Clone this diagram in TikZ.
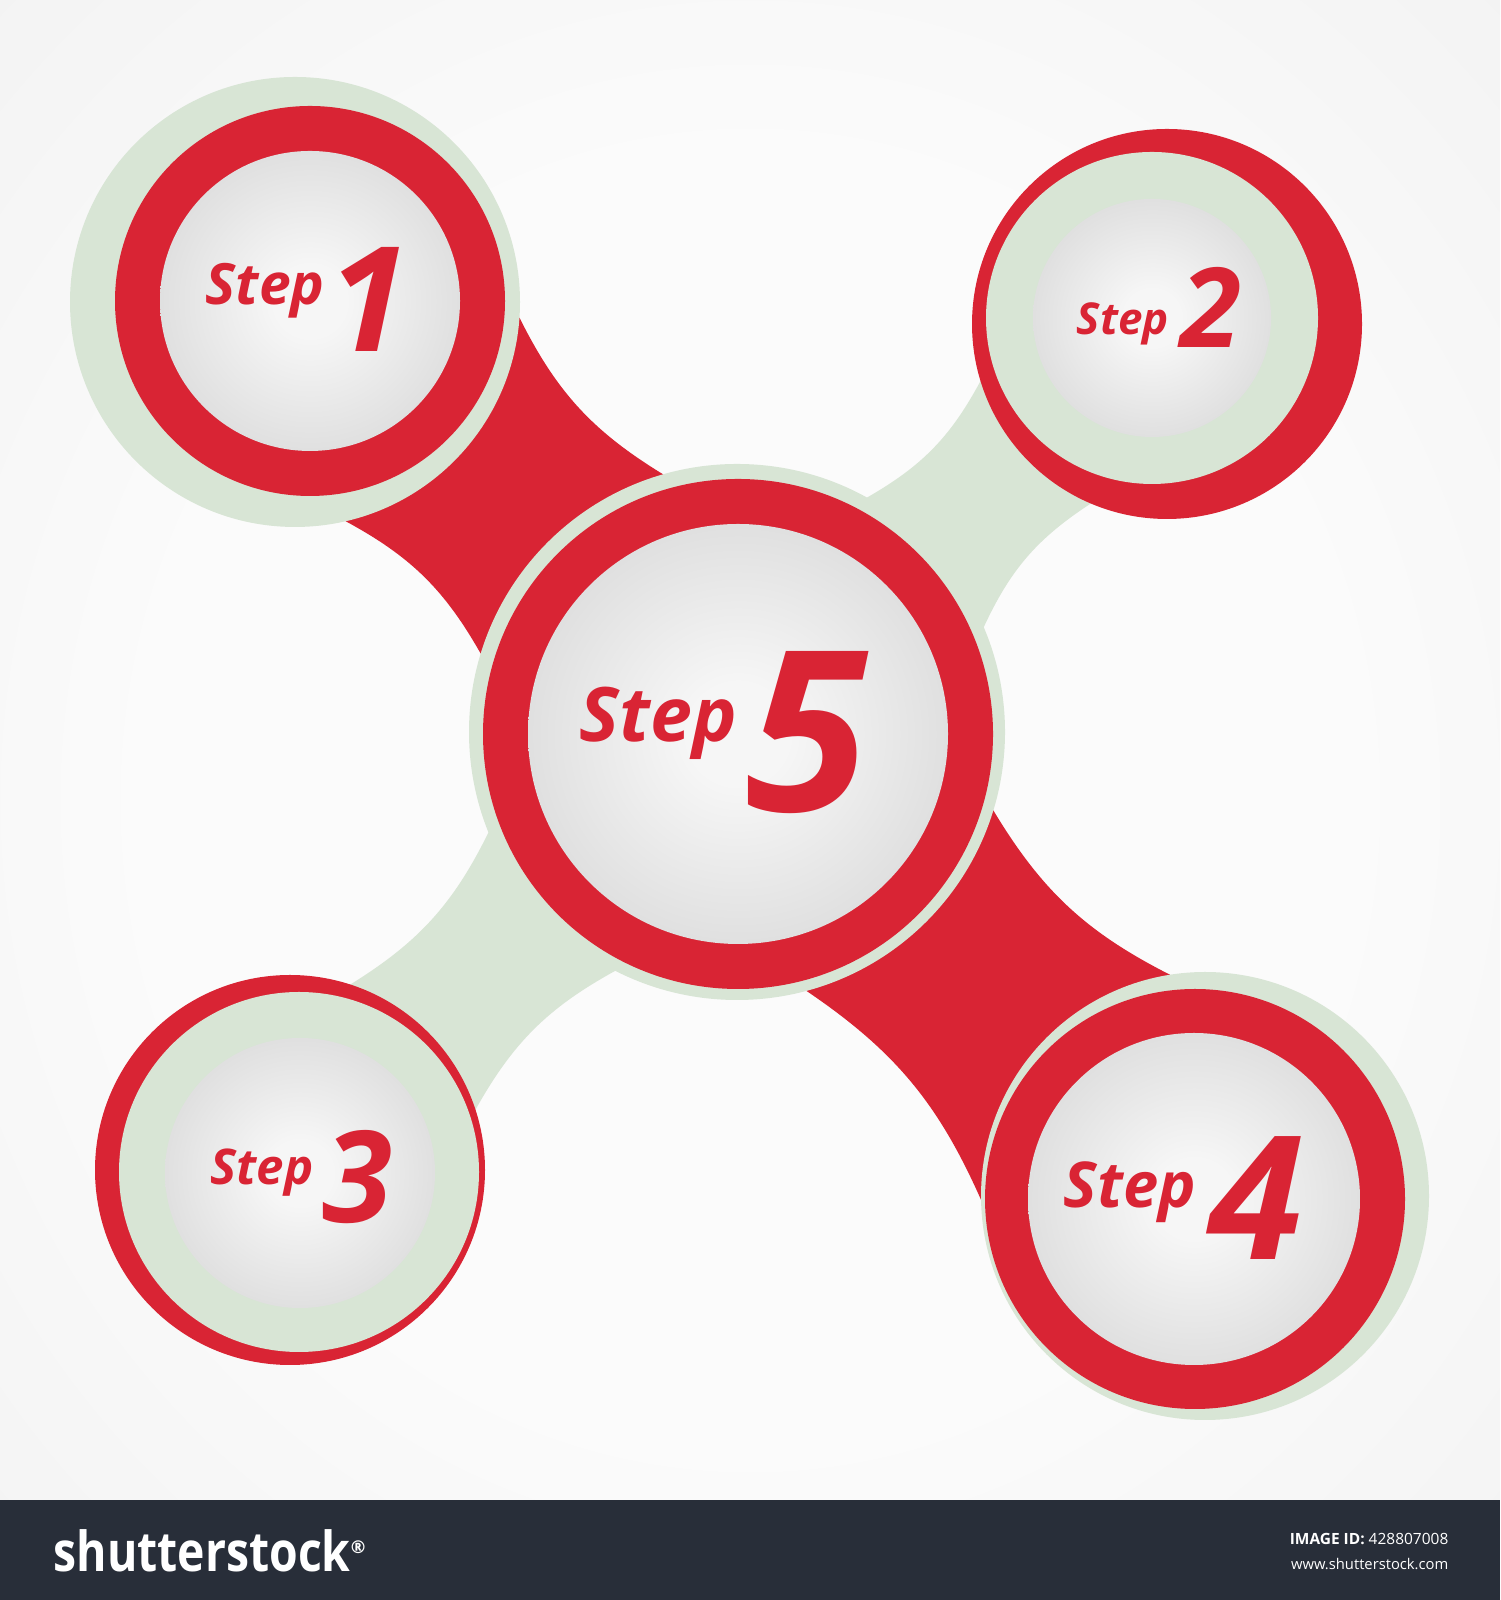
\documentclass[tikz,border=0pt]{standalone}
\usepackage{fontspec}
\usepackage{graphicx}
\newfontfamily\stepfont{Open Sans}
\usetikzlibrary{backgrounds}

\definecolor{stepred}{RGB}{217,36,52}
\definecolor{ringgreen}{RGB}{216,229,213}
\definecolor{corelight}{RGB}{246,246,246}
\definecolor{coremid}{RGB}{218,218,218}
\definecolor{coredark}{RGB}{186,186,186}
\definecolor{bglight}{RGB}{251,251,251}
\definecolor{bgdark}{RGB}{236,236,236}
\definecolor{barblue}{RGB}{40,46,57}

\pgfdeclareradialshading{discshade}{\pgfpoint{0bp}{0bp}}{color(0bp)=(corelight); color(6bp)=(corelight); color(30bp)=(coremid); color(50bp)=(coredark)}
\pgfdeclareradialshading{pageshade}{\pgfpoint{0bp}{0bp}}{color(0bp)=(bglight); color(20bp)=(bglight); color(50bp)=(bgdark)}

\newcommand{\stepfontsize}[1]{\stepfont\bfseries\itshape\fontsize{#1}{#1}\selectfont}

\begin{document}
\begin{tikzpicture}[
    disc/.style={circle, inner sep=0pt, outer sep=0pt},
    redring/.style={disc, fill=stepred},
    greenring/.style={disc, fill=ringgreen},
    core/.style={disc, shading=discshade},
    word/.style={text=stepred, inner sep=0pt, anchor=base west},
    bartext/.style={text=white, inner sep=0pt}
]
\useasboundingbox (0,0) rectangle (15,16);

% Page
\begin{scope}[on background layer]
\fill[shading=pageshade] (0,0) rectangle (15,16);
\end{scope}

% Step 1
\node[greenring, minimum size=4.50cm] (ring1) at (2.95,12.98) {};
\node[redring, minimum size=3.90cm] (mid1) at (3.10,12.99) {};
\node[core, minimum size=3.00cm] (core1) at (3.10,12.99) {};

% Step 2
\node[redring, minimum size=3.90cm] (ring2) at (11.67,12.76) {};
\node[greenring, minimum size=3.32cm] (mid2) at (11.52,12.82) {};
\node[core, minimum size=2.38cm] (core2) at (11.52,12.82) {};

% Step 5 (hub)
\node[greenring, minimum size=5.36cm] (ring5) at (7.37,8.68) {};
\node[redring, minimum size=5.10cm] (mid5) at (7.38,8.66) {};
\node[core, minimum size=4.20cm] (core5) at (7.38,8.66) {};

% Step 3
\node[redring, minimum size=3.90cm] (ring3) at (2.90,4.30) {};
\node[greenring, minimum size=3.60cm] (mid3) at (2.99,4.28) {};
\node[core, minimum size=2.70cm] (core3) at (3.00,4.27) {};

% Step 4
\node[greenring, minimum size=4.48cm] (ring4) at (12.05,4.04) {};
\node[redring, minimum size=4.20cm] (mid4) at (11.95,4.01) {};
\node[core, minimum size=3.32cm] (core4) at (11.94,4.01) {};

% Bands
\begin{scope}[on background layer]
\fill[stepred] (ring1.-4) to[bend right=16] (ring5.106) -- (ring5.center)
    -- (ring5.163) to[bend right=16] (ring1.-77) -- (ring1.center) -- cycle;
\fill[ringgreen] (ring5.61) to[bend right=16] (ring2.197) -- (ring2.center)
    -- (ring2.247) to[bend right=16] (ring5.23) -- (ring5.center) -- cycle;
\fill[ringgreen] (ring3.72) to[bend right=16] (ring5.202) -- (ring5.center)
    -- (ring5.243) to[bend right=16] (ring3.18) -- (ring3.center) -- cycle;
\fill[stepred] (ring5.-17) to[bend right=16] (ring4.99) -- (ring4.center)
    -- (ring4.181) to[bend right=16] (ring5.-75) -- (ring5.center) -- cycle;
\end{scope}

% Labels
\node[word, font=\stepfontsize{16.2}] (word1) at (2.05,12.95) {Step};
\node[word, font=\stepfontsize{41.5}] (num1) at (3.28,12.48) {1};
\node[word, font=\stepfontsize{12.5}] (word2) at (10.76,12.65) {Step};
\node[word, font=\stepfontsize{31.5}] (num2) at (11.80,12.52) {2};
\node[word, font=\stepfontsize{14.0}] (word3) at (2.10,4.15) {Step};
\node[word, font=\stepfontsize{36.2}] (num3) at (3.22,3.77) {3};
\node[word, font=\stepfontsize{18.0}] (word4) at (10.63,3.92) {Step};
\node[word, font=\stepfontsize{49}] (num4) at (12.08,3.40) {4};
\node[word, font=\stepfontsize{21.4}] (word5) at (5.79,8.58) {Step};
\node[word, font=\stepfontsize{63.8}] (num5) at (7.45,7.88) {5};

% Footer bar
\fill[barblue] (0,0) rectangle (15,1);
\node[bartext, anchor=base west, font=\stepfont\bfseries\fontsize{15.7}{16}\selectfont] (logo) at (0.53,0.28) {\scalebox{0.84}[1]{shutterstock}\textsuperscript{\tiny ®}};
\node[bartext, anchor=east, font=\stepfont\fontsize{4.4}{5}\selectfont] (imageid) at (14.49,0.61) {\textbf{IMAGE ID:} 428807008};
\node[bartext, anchor=east, font=\stepfont\fontsize{4.2}{5}\selectfont] (website) at (14.49,0.36) {www.shutterstock.com};

\end{tikzpicture}
\end{document}
